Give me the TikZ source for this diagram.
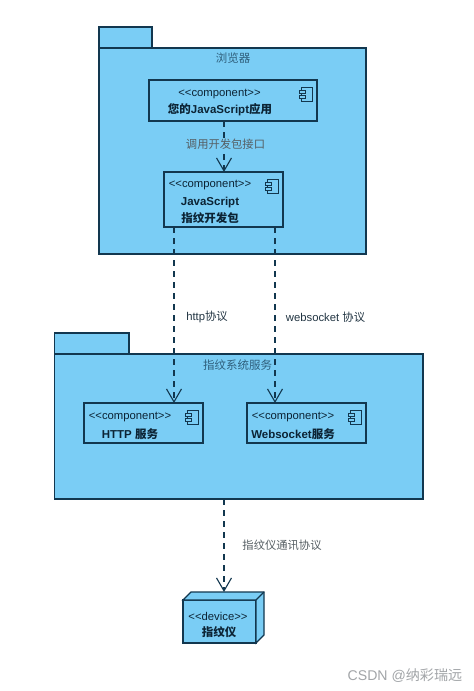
\documentclass[tikz,border=0pt]{standalone}
\usepackage{fontspec}
\setmainfont{Liberation Sans}
\newfontfamily\cjk{Noto Sans CJK SC}
\usetikzlibrary{arrows.meta,calc}
\definecolor{pkgfill}{HTML}{7ACDF5}
\definecolor{umlline}{HTML}{12374F}
\definecolor{umltext}{HTML}{0C2435}
\definecolor{pkgtitle}{HTML}{2F5F7C}
\definecolor{linklabel}{HTML}{555E63}
\definecolor{mark}{HTML}{A2A5A8}
\tikzset{
  box/.style={draw=umlline,fill=pkgfill,line width=1.1pt,rectangle,inner sep=0pt,outer sep=0pt},
  stereo/.style={text=umltext,font=\fontsize{11.3}{13}\selectfont,inner sep=0pt},
  bname/.style={text=umltext,font=\fontsize{11.5}{14}\selectfont\bfseries,inner sep=0pt},
  ptitle/.style={text=pkgtitle,font=\fontsize{11.5}{14}\selectfont\cjk,inner sep=0pt},
  linktext/.style={text=linklabel,font=\fontsize{11.3}{14}\selectfont,inner sep=0pt},
  dep/.style={draw=umlline,line width=1.1pt,dash pattern=on 6pt off 5pt,
    -{Straight Barb[length=13pt,width=15pt,line width=1.1pt]}},
  iconpart/.style={draw=umlline,line width=1pt,fill=pkgfill},
}
\newcommand{\compicon}[1]{%
  \draw[iconpart] ($(#1)+(-15.5,7)$) rectangle ($(#1)+(-5,21)$);
  \draw[iconpart] ($(#1)+(-18,10)$) rectangle ($(#1)+(-12,13.5)$);
  \draw[iconpart] ($(#1)+(-18,15)$) rectangle ($(#1)+(-12,18.5)$);
}
\begin{document}
\begin{tikzpicture}[x=1pt,y=-1pt]
\useasboundingbox (0,0) rectangle (474,691);
\fill[white] (0,0) rectangle (474,691);
% browser package
\node[box,minimum width=53pt,minimum height=21pt] (browsertab) at (125.5,37.5) {};
\node[box,minimum width=267pt,minimum height=206pt] (browser) at (232.5,151) {};
\node[ptitle] (browsertitle) at (233,58) {浏览器};
% fingerprint service package
\node[box,minimum width=74.5pt,minimum height=21pt] (servicetab) at (91.75,343.5) {};
\node[box,minimum width=368.5pt,minimum height=145pt] (service) at (238.75,426.5) {};
\node[ptitle] (servicetitle) at (237.5,365) {指纹系统服务};
% components
\node[box,minimum width=168pt,minimum height=41pt] (app) at (233,100.5) {};
\node[box,minimum width=119pt,minimum height=55pt] (sdk) at (223.5,199.5) {};
\node[box,minimum width=119pt,minimum height=40pt] (http) at (143.5,423) {};
\node[box,minimum width=119pt,minimum height=40pt] (ws) at (306.5,423) {};
% device
\node[box,minimum width=73pt,minimum height=43pt] (device) at (219.5,621.5) {};
\draw[box] (device.north west) -- ++(8,-8) -- ++(73,0) -- ++(0,43) -- (device.south east) -- (device.north east) -- cycle;
\draw[draw=umlline,line width=1.1pt] (device.north east) -- ++(8,-8);
% icons
\compicon{app.north east}
\compicon{sdk.north east}
\compicon{http.north east}
\compicon{ws.north east}
% connectors
\draw[dep] ($(app.south west)+(75,0)$) -- ($(sdk.north west)+(60,0)$);
\draw[dep] ($(sdk.south west)+(10,0)$) -- ($(http.north west)+(90,0)$);
\draw[dep] ($(sdk.south east)+(-8,0)$) -- ($(ws.north west)+(28,0)$);
\draw[dep] ($(service.south west)+(169.5,0)$) -- ($(device.north west)+(41,-8)$);
% connector labels
\node[linktext,fill=pkgfill,inner ysep=1pt,inner xsep=1pt] (l1) at (225.5,144) {\cjk 调用开发包接口};
\node[linktext,text=umltext!70!linklabel] (l2) at (207,317) {http{\cjk 协议}};
\node[linktext,text=umltext!70!linklabel] (l3) at (325.5,317) {websocket {\cjk 协议}};
\node[linktext] (l4) at (282,545) {\cjk 指纹仪通讯协议};
% node texts
\node[stereo] (apps) at (219.5,94.5) {<{}<component>{}>};
\node[bname] (appn) at (220,110) {{\cjk 您的}JavaScript{\cjk 应用}};
\node[stereo] (sdks) at (210,185.5) {<{}<component>{}>};
\node[bname] (sdkn1) at (210,202.5) {JavaScript};
\node[bname] (sdkn2) at (210,218) {\cjk 指纹开发包};
\node[stereo] (https) at (130,417.5) {<{}<component>{}>};
\node[bname] (httpn) at (130,434) {HTTP {\cjk 服务}};
\node[stereo] (wss) at (293,417.5) {<{}<component>{}>};
\node[bname] (wsn) at (293,434) {Websocket{\cjk 服务}};
\node[stereo] (devs) at (218,616) {<{}<device>{}>};
\node[bname] (devn) at (219,632) {\cjk 指纹仪};
\node[text=mark,font=\fontsize{14.1}{16}\selectfont,inner sep=0pt] (wm) at (405,676) {CSDN @{\cjk 纳彩瑞远}};
\end{tikzpicture}
\end{document}
